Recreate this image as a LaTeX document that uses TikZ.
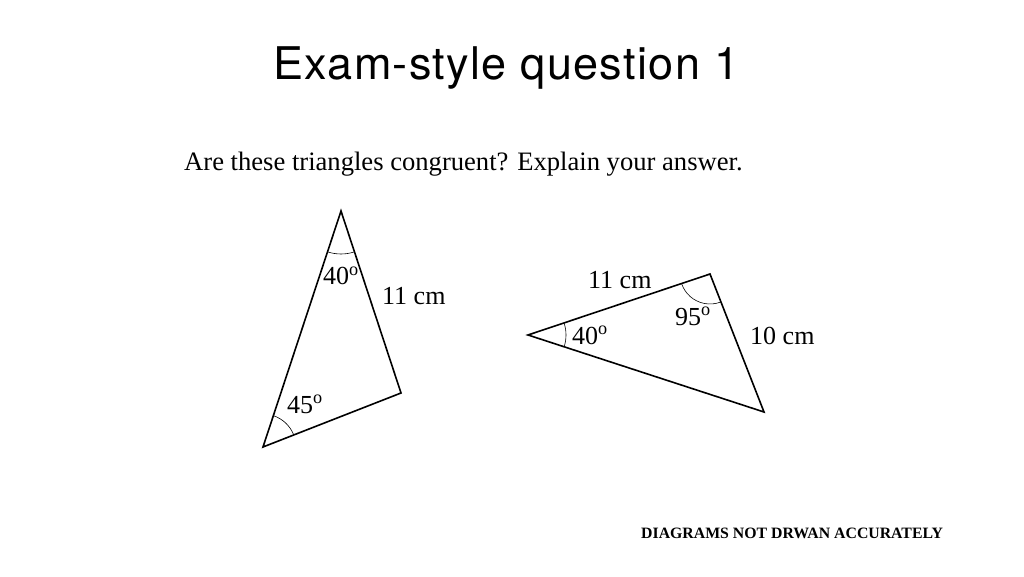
\documentclass[tikz,border=0pt]{standalone}
\usepackage{fontspec}
\setmainfont{Liberation Serif}
\newfontfamily\titlefont[LetterSpace=3]{TeX Gyre Heros}
\usetikzlibrary{angles}
\begin{document}
\begin{tikzpicture}[x=1pt,y=1pt,
  tri/.style={line width=1.6pt,line join=miter},
  ang/.style={draw,line width=0.6pt},
  lbl/.style={inner sep=0pt,anchor=base west,font=\fontsize{26}{30}\selectfont}]
\useasboundingbox (0,0) rectangle (1024,576);
% title and question
\node[inner sep=0pt,anchor=base west,font=\titlefont\fontsize{45}{52}\selectfont] (title) at (273,496) {Exam-style question 1};
\node[inner sep=0pt,anchor=base west,font=\fontsize{26.6}{30}\selectfont] (question) at (184,405) {Are these triangles congruent? Explain your answer.};
\node[inner sep=0pt,anchor=base west,font=\bfseries\fontsize{15.8}{18}\selectfont] (note) at (641,38) {DIAGRAMS NOT DRWAN ACCURATELY};
% triangle 1
\coordinate (A1) at (341,365);
\coordinate (B1) at (263,129);
\coordinate (C1) at (401,183);
\draw[tri] (A1) -- (B1) -- (C1) -- cycle;
\pic[ang,angle radius=43pt] {angle=B1--A1--C1};
\pic[ang,angle radius=33pt] {angle=C1--B1--A1};
\node[lbl] (t1a) at (323,291) {40\textsuperscript{o}};
\node[lbl] (t1b) at (287,163) {45\textsuperscript{o}};
\node[lbl] (t1s) at (382,271) {11 cm};
% triangle 2
\coordinate (P) at (528,241);
\coordinate (Q) at (710,302);
\coordinate (R) at (764,164);
\draw[tri] (P) -- (Q) -- (R) -- cycle;
\pic[ang,angle radius=38pt] {angle=R--P--Q};
\pic[ang,angle radius=30pt] {angle=P--Q--R};
\node[lbl] (t2a) at (572,232) {40\textsuperscript{o}};
\node[lbl] (t2b) at (675,251) {95\textsuperscript{o}};
\node[lbl] (t2s) at (588,287) {11 cm};
\node[lbl] (t2t) at (750,232) {10 cm};
\end{tikzpicture}
\end{document}
